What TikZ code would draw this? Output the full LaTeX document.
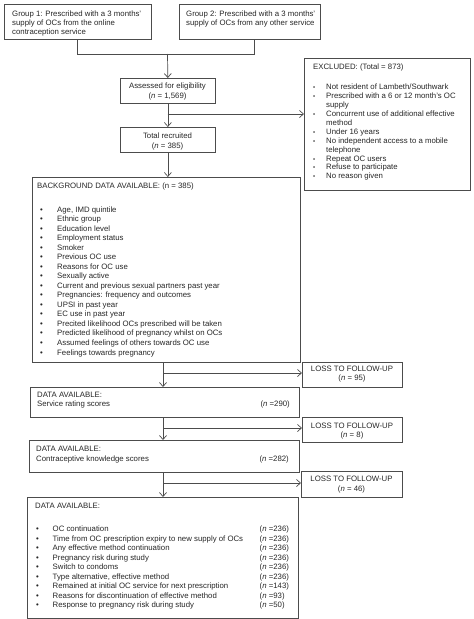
\documentclass[tikz,border=0pt]{standalone}
\usepackage{fontspec}
\setmainfont{Liberation Sans}
\usetikzlibrary{arrows.meta}
\begin{document}
\begin{tikzpicture}[x=1pt,y=-1pt,
  box/.style={draw=black!70,line width=0.7pt,inner sep=0pt,anchor=north west},
  txt/.style={inner sep=0pt,anchor=base west,text=black!85,font=\fontsize{7.8}{9.5}\selectfont},
  ctxt/.style={inner sep=0pt,anchor=base,text=black!85,font=\fontsize{7.8}{9.5}\selectfont},
  rtxt/.style={inner sep=0pt,anchor=base east,text=black!85,font=\fontsize{7.8}{9.5}\selectfont},
  line/.style={draw=black!70,line width=0.7pt},
  arr/.style={line,-{Straight Barb[length=4pt,width=7pt]}}]
\useasboundingbox (0,0) rectangle (474,619);
% boxes
\node[box,minimum width=147pt,minimum height=35pt] (g1) at (4,4) {};
\node[box,minimum width=141pt,minimum height=35pt] (g2) at (179,4) {};
\node[box,minimum width=95pt,minimum height=25pt] (ass) at (120,78) {};
\node[box,minimum width=95pt,minimum height=25pt] (tot) at (120,127) {};
\node[box,minimum width=166pt,minimum height=132pt] (exc) at (304,58) {};
\node[box,minimum width=268pt,minimum height=185pt] (bg) at (32,177) {};
\node[box,minimum width=100pt,minimum height=25pt] (l1) at (302,362) {};
\node[box,minimum width=269pt,minimum height=30pt] (d1) at (30,387) {};
\node[box,minimum width=100pt,minimum height=25pt] (l2) at (302,417) {};
\node[box,minimum width=270pt,minimum height=32pt] (d2) at (29,440) {};
\node[box,minimum width=101pt,minimum height=26pt] (l3) at (301,471) {};
\node[box,minimum width=271pt,minimum height=121pt] (d3) at (27,497) {};
% texts
\node[txt] (g1a) at (12,16.5) {Group 1: Prescribed with a 3 months'};
\node[txt] (g1b) at (12,25.5) {supply of OCs from the online};
\node[txt] (g1c) at (12,34.5) {contraception service};
\node[txt] (g2a) at (186,16.5) {Group 2: Prescribed with a 3 months'};
\node[txt] (g2b) at (186,25.5) {supply of OCs from any other service};
\node[ctxt] (assa) at (167.5,88.8) {Assessed for eligibility};
\node[ctxt] (assb) at (167.5,98.3) {(\textit{n} = 1,569)};
\node[ctxt] (tota) at (167.5,138.8) {Total recruited};
\node[ctxt] (totb) at (167.5,148.8) {(\textit{n} = 385)};
\node[txt] (exct) at (313,69) {EXCLUDED: (Total = 873)};
\foreach \t [count=\i from 0] in {Not resident of Lambeth/Southwark,Prescribed with a 6 or 12 month's OC,,Concurrent use of additional effective,,Under 16 years,No independent access to a mobile,,Repeat OC users,Refuse to participate,No reason given}{
  \node[txt] (ex\i) at (326,89.8+8.9*\i) {\t};
}
\foreach \i in {0,1,3,5,6,8,9,10}{
  \node[txt,font=\fontsize{6}{7}\selectfont] (exb\i) at (313,89.8+8.9*\i) {•};
}
\node[txt] (exs1) at (326,89.8+8.9*2) {supply};
\node[txt] (exs2) at (326,89.8+8.9*4) {method};
\node[txt] (exs3) at (326,89.8+8.9*7) {telephone};
\node[txt] (bgt) at (37,188.5) {BACKGROUND DATA AVAILABLE: (n = 385)};
\foreach \t [count=\i from 0] in {{Age, IMD quintile},Ethnic group,Education level,Employment status,Smoker,Previous OC use,Reasons for OC use,Sexually active,Current and previous sexual partners past year,{Pregnancies: frequency and outcomes},UPSI in past year,EC use in past year,Precited likelihood OCs prescribed will be taken,Predicted likelihood of pregnancy whilst on OCs,Assumed feelings of others towards OC use,Feelings towards pregnancy}{
  \node[txt] (bgb\i) at (40,212.1+9.53*\i) {•};
  \node[txt] (bgi\i) at (57,212.1+9.53*\i) {\t};
}
\node[ctxt] (l1a) at (352,371.8) {LOSS TO FOLLOW-UP};
\node[ctxt] (l1b) at (352,380.8) {(\textit{n} = 95)};
\node[txt] (d1a) at (37,397.8) {DATA AVAILABLE:};
\node[txt] (d1b) at (37,406.8) {Service rating scores};
\node[rtxt] (d1n) at (290,406.8) {(\textit{n} =290)};
\node[ctxt] (l2a) at (352,428.1) {LOSS TO FOLLOW-UP};
\node[ctxt] (l2b) at (352,437.1) {(\textit{n} = 8)};
\node[txt] (d2a) at (36,451.8) {DATA AVAILABLE:};
\node[txt] (d2b) at (36,461.1) {Contraceptive knowledge scores};
\node[rtxt] (d2n) at (289,461.1) {(\textit{n} =282)};
\node[ctxt] (l3a) at (351.5,481.8) {LOSS TO FOLLOW-UP};
\node[ctxt] (l3b) at (351.5,491.1) {(\textit{n} = 46)};
\node[txt] (d3t) at (35,508.8) {DATA AVAILABLE:};
\foreach \t/\n [count=\i from 0] in {OC continuation/236,Time from OC prescription expiry to new supply of OCs/236,Any effective method continuation/236,Pregnancy risk during study/236,Switch to condoms/236,{Type alternative, effective method}/236,Remained at initial OC service for next prescription/143,Reasons for discontinuation of effective method/93,Response to pregnancy risk during study/50}{
  \node[txt] (d3b\i) at (36,531.8+9.5*\i) {•};
  \node[txt] (d3i\i) at (52.5,531.8+9.5*\i) {\t};
  \node[txt] (d3n\i) at (259.5,531.8+9.5*\i) {(\textit{n} =\n)};
}
% connectors
\coordinate (j1) at (77,54);
\coordinate (j2) at (254,54);
\coordinate (jm) at (167.5,54);
\coordinate (je) at (167.5,114);
\coordinate (cx) at (163,0);
\draw[line] (g1.south -| j1) -- (j1) -- (j2) -- (g2.south -| j2);
\draw[arr] (jm) -- (ass.north);
\draw[arr] (ass.south) -- (tot.north);
\draw[arr] (je) -- (je -| exc.west);
\draw[arr] (tot.south) -- (bg.north -| tot.south);
\coordinate (k1) at (163,373);
\coordinate (k2) at (163,428);
\coordinate (k3) at (163,483);
\draw[arr] (bg.south -| cx) -- (d1.north -| cx);
\draw[arr] (k1) -- (k1 -| l1.west);
\draw[arr] (d1.south -| cx) -- (d2.north -| cx);
\draw[arr] (k2) -- (k2 -| l2.west);
\draw[arr] (d2.south -| cx) -- (d3.north -| cx);
\draw[arr] (k3) -- (k3 -| l3.west);
\end{tikzpicture}
\end{document}
